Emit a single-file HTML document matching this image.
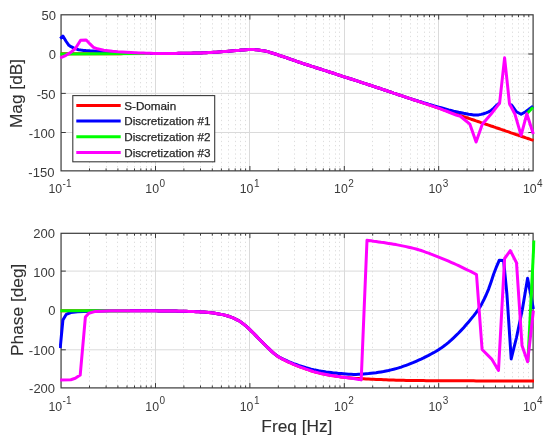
<!DOCTYPE html>
<html lang="en"><head><meta charset="utf-8"><title>Bode plot</title>
<style>html,body{margin:0;padding:0;background:#fff}svg{display:block}text{font-family:"Liberation Sans",Arial,Helvetica,sans-serif}</style></head><body>
<svg width="550" height="444" viewBox="0 0 550 444">
<rect width="550" height="444" fill="#fff"/>
<defs><clipPath id="c1"><rect x="59.05" y="14.80" width="476.45" height="156.05"/></clipPath><clipPath id="c2"><rect x="59.05" y="232.30" width="476.45" height="155.60"/></clipPath></defs>
<g stroke="#dedede" stroke-width="1" stroke-dasharray="1.3 2.9" fill="none">
<line x1="89.5" y1="14.8" x2="89.5" y2="170.8"/>
<line x1="106.5" y1="14.8" x2="106.5" y2="170.8"/>
<line x1="117.5" y1="14.8" x2="117.5" y2="170.8"/>
<line x1="127.5" y1="14.8" x2="127.5" y2="170.8"/>
<line x1="134.5" y1="14.8" x2="134.5" y2="170.8"/>
<line x1="140.5" y1="14.8" x2="140.5" y2="170.8"/>
<line x1="146.5" y1="14.8" x2="146.5" y2="170.8"/>
<line x1="151.5" y1="14.8" x2="151.5" y2="170.8"/>
<line x1="183.5" y1="14.8" x2="183.5" y2="170.8"/>
<line x1="200.5" y1="14.8" x2="200.5" y2="170.8"/>
<line x1="212.5" y1="14.8" x2="212.5" y2="170.8"/>
<line x1="221.5" y1="14.8" x2="221.5" y2="170.8"/>
<line x1="228.5" y1="14.8" x2="228.5" y2="170.8"/>
<line x1="235.5" y1="14.8" x2="235.5" y2="170.8"/>
<line x1="240.5" y1="14.8" x2="240.5" y2="170.8"/>
<line x1="245.5" y1="14.8" x2="245.5" y2="170.8"/>
<line x1="278.5" y1="14.8" x2="278.5" y2="170.8"/>
<line x1="294.5" y1="14.8" x2="294.5" y2="170.8"/>
<line x1="306.5" y1="14.8" x2="306.5" y2="170.8"/>
<line x1="315.5" y1="14.8" x2="315.5" y2="170.8"/>
<line x1="323.5" y1="14.8" x2="323.5" y2="170.8"/>
<line x1="329.5" y1="14.8" x2="329.5" y2="170.8"/>
<line x1="335.5" y1="14.8" x2="335.5" y2="170.8"/>
<line x1="339.5" y1="14.8" x2="339.5" y2="170.8"/>
<line x1="372.5" y1="14.8" x2="372.5" y2="170.8"/>
<line x1="389.5" y1="14.8" x2="389.5" y2="170.8"/>
<line x1="401.5" y1="14.8" x2="401.5" y2="170.8"/>
<line x1="410.5" y1="14.8" x2="410.5" y2="170.8"/>
<line x1="417.5" y1="14.8" x2="417.5" y2="170.8"/>
<line x1="424.5" y1="14.8" x2="424.5" y2="170.8"/>
<line x1="429.5" y1="14.8" x2="429.5" y2="170.8"/>
<line x1="434.5" y1="14.8" x2="434.5" y2="170.8"/>
<line x1="467.5" y1="14.8" x2="467.5" y2="170.8"/>
<line x1="483.5" y1="14.8" x2="483.5" y2="170.8"/>
<line x1="495.5" y1="14.8" x2="495.5" y2="170.8"/>
<line x1="504.5" y1="14.8" x2="504.5" y2="170.8"/>
<line x1="512.5" y1="14.8" x2="512.5" y2="170.8"/>
<line x1="518.5" y1="14.8" x2="518.5" y2="170.8"/>
<line x1="523.5" y1="14.8" x2="523.5" y2="170.8"/>
<line x1="528.5" y1="14.8" x2="528.5" y2="170.8"/>
</g>
<g stroke="#dadada" stroke-width="1" fill="none">
<line x1="155.5" y1="14.8" x2="155.5" y2="170.8"/>
<line x1="249.5" y1="14.8" x2="249.5" y2="170.8"/>
<line x1="344.5" y1="14.8" x2="344.5" y2="170.8"/>
<line x1="438.5" y1="14.8" x2="438.5" y2="170.8"/>
<line x1="61.0" y1="54.0" x2="533.1" y2="54.0"/>
<line x1="61.0" y1="93.4" x2="533.1" y2="93.4"/>
<line x1="61.0" y1="132.5" x2="533.1" y2="132.5"/>
</g>
<g stroke="#3a3a3a" stroke-width="1" fill="none">
<line x1="89.5" y1="170.8" x2="89.5" y2="168.4"/>
<line x1="89.5" y1="14.8" x2="89.5" y2="17.2"/>
<line x1="106.1" y1="170.8" x2="106.1" y2="168.4"/>
<line x1="106.1" y1="14.8" x2="106.1" y2="17.2"/>
<line x1="117.9" y1="170.8" x2="117.9" y2="168.4"/>
<line x1="117.9" y1="14.8" x2="117.9" y2="17.2"/>
<line x1="127.0" y1="170.8" x2="127.0" y2="168.4"/>
<line x1="127.0" y1="14.8" x2="127.0" y2="17.2"/>
<line x1="134.5" y1="170.8" x2="134.5" y2="168.4"/>
<line x1="134.5" y1="14.8" x2="134.5" y2="17.2"/>
<line x1="140.8" y1="170.8" x2="140.8" y2="168.4"/>
<line x1="140.8" y1="14.8" x2="140.8" y2="17.2"/>
<line x1="146.3" y1="170.8" x2="146.3" y2="168.4"/>
<line x1="146.3" y1="14.8" x2="146.3" y2="17.2"/>
<line x1="151.1" y1="170.8" x2="151.1" y2="168.4"/>
<line x1="151.1" y1="14.8" x2="151.1" y2="17.2"/>
<line x1="183.9" y1="170.8" x2="183.9" y2="168.4"/>
<line x1="183.9" y1="14.8" x2="183.9" y2="17.2"/>
<line x1="200.5" y1="170.8" x2="200.5" y2="168.4"/>
<line x1="200.5" y1="14.8" x2="200.5" y2="17.2"/>
<line x1="212.3" y1="170.8" x2="212.3" y2="168.4"/>
<line x1="212.3" y1="14.8" x2="212.3" y2="17.2"/>
<line x1="221.4" y1="170.8" x2="221.4" y2="168.4"/>
<line x1="221.4" y1="14.8" x2="221.4" y2="17.2"/>
<line x1="228.9" y1="170.8" x2="228.9" y2="168.4"/>
<line x1="228.9" y1="14.8" x2="228.9" y2="17.2"/>
<line x1="235.2" y1="170.8" x2="235.2" y2="168.4"/>
<line x1="235.2" y1="14.8" x2="235.2" y2="17.2"/>
<line x1="240.7" y1="170.8" x2="240.7" y2="168.4"/>
<line x1="240.7" y1="14.8" x2="240.7" y2="17.2"/>
<line x1="245.6" y1="170.8" x2="245.6" y2="168.4"/>
<line x1="245.6" y1="14.8" x2="245.6" y2="17.2"/>
<line x1="278.3" y1="170.8" x2="278.3" y2="168.4"/>
<line x1="278.3" y1="14.8" x2="278.3" y2="17.2"/>
<line x1="294.9" y1="170.8" x2="294.9" y2="168.4"/>
<line x1="294.9" y1="14.8" x2="294.9" y2="17.2"/>
<line x1="306.7" y1="170.8" x2="306.7" y2="168.4"/>
<line x1="306.7" y1="14.8" x2="306.7" y2="17.2"/>
<line x1="315.9" y1="170.8" x2="315.9" y2="168.4"/>
<line x1="315.9" y1="14.8" x2="315.9" y2="17.2"/>
<line x1="323.3" y1="170.8" x2="323.3" y2="168.4"/>
<line x1="323.3" y1="14.8" x2="323.3" y2="17.2"/>
<line x1="329.7" y1="170.8" x2="329.7" y2="168.4"/>
<line x1="329.7" y1="14.8" x2="329.7" y2="17.2"/>
<line x1="335.1" y1="170.8" x2="335.1" y2="168.4"/>
<line x1="335.1" y1="14.8" x2="335.1" y2="17.2"/>
<line x1="340.0" y1="170.8" x2="340.0" y2="168.4"/>
<line x1="340.0" y1="14.8" x2="340.0" y2="17.2"/>
<line x1="372.7" y1="170.8" x2="372.7" y2="168.4"/>
<line x1="372.7" y1="14.8" x2="372.7" y2="17.2"/>
<line x1="389.3" y1="170.8" x2="389.3" y2="168.4"/>
<line x1="389.3" y1="14.8" x2="389.3" y2="17.2"/>
<line x1="401.1" y1="170.8" x2="401.1" y2="168.4"/>
<line x1="401.1" y1="14.8" x2="401.1" y2="17.2"/>
<line x1="410.3" y1="170.8" x2="410.3" y2="168.4"/>
<line x1="410.3" y1="14.8" x2="410.3" y2="17.2"/>
<line x1="417.7" y1="170.8" x2="417.7" y2="168.4"/>
<line x1="417.7" y1="14.8" x2="417.7" y2="17.2"/>
<line x1="424.1" y1="170.8" x2="424.1" y2="168.4"/>
<line x1="424.1" y1="14.8" x2="424.1" y2="17.2"/>
<line x1="429.5" y1="170.8" x2="429.5" y2="168.4"/>
<line x1="429.5" y1="14.8" x2="429.5" y2="17.2"/>
<line x1="434.4" y1="170.8" x2="434.4" y2="168.4"/>
<line x1="434.4" y1="14.8" x2="434.4" y2="17.2"/>
<line x1="467.1" y1="170.8" x2="467.1" y2="168.4"/>
<line x1="467.1" y1="14.8" x2="467.1" y2="17.2"/>
<line x1="483.7" y1="170.8" x2="483.7" y2="168.4"/>
<line x1="483.7" y1="14.8" x2="483.7" y2="17.2"/>
<line x1="495.5" y1="170.8" x2="495.5" y2="168.4"/>
<line x1="495.5" y1="14.8" x2="495.5" y2="17.2"/>
<line x1="504.7" y1="170.8" x2="504.7" y2="168.4"/>
<line x1="504.7" y1="14.8" x2="504.7" y2="17.2"/>
<line x1="512.2" y1="170.8" x2="512.2" y2="168.4"/>
<line x1="512.2" y1="14.8" x2="512.2" y2="17.2"/>
<line x1="518.5" y1="170.8" x2="518.5" y2="168.4"/>
<line x1="518.5" y1="14.8" x2="518.5" y2="17.2"/>
<line x1="524.0" y1="170.8" x2="524.0" y2="168.4"/>
<line x1="524.0" y1="14.8" x2="524.0" y2="17.2"/>
<line x1="528.8" y1="170.8" x2="528.8" y2="168.4"/>
<line x1="528.8" y1="14.8" x2="528.8" y2="17.2"/>
<line x1="155.5" y1="170.8" x2="155.5" y2="166.0"/>
<line x1="155.5" y1="14.8" x2="155.5" y2="19.6"/>
<line x1="249.9" y1="170.8" x2="249.9" y2="166.0"/>
<line x1="249.9" y1="14.8" x2="249.9" y2="19.6"/>
<line x1="344.3" y1="170.8" x2="344.3" y2="166.0"/>
<line x1="344.3" y1="14.8" x2="344.3" y2="19.6"/>
<line x1="438.7" y1="170.8" x2="438.7" y2="166.0"/>
<line x1="438.7" y1="14.8" x2="438.7" y2="19.6"/>
<line x1="61.0" y1="54.0" x2="65.8" y2="54.0"/>
<line x1="533.1" y1="54.0" x2="528.3" y2="54.0"/>
<line x1="61.0" y1="93.4" x2="65.8" y2="93.4"/>
<line x1="533.1" y1="93.4" x2="528.3" y2="93.4"/>
<line x1="61.0" y1="132.5" x2="65.8" y2="132.5"/>
<line x1="533.1" y1="132.5" x2="528.3" y2="132.5"/>
<rect x="61.05" y="14.80" width="472.05" height="156.05" stroke-width="1.2"/>
</g>
<g fill="none" stroke-linejoin="round" stroke-linecap="butt" clip-path="url(#c1)">
<polyline points="61.0,53.8 63.5,53.8 66.0,53.8 68.5,53.8 71.0,53.8 73.5,53.8 76.0,53.8 78.5,53.8 81.0,53.8 83.5,53.8 86.0,53.8 88.5,53.8 91.0,53.7 93.5,53.7 96.0,53.7 98.5,53.7 101.0,53.7 103.5,53.7 106.0,53.7 108.5,53.7 111.0,53.7 113.5,53.7 116.0,53.7 118.5,53.7 121.0,53.7 123.5,53.6 126.0,53.6 128.6,53.6 131.1,53.6 133.6,53.6 136.1,53.6 138.6,53.6 141.1,53.6 143.6,53.6 146.1,53.6 148.6,53.5 151.1,53.5 153.6,53.5 156.1,53.5 158.6,53.5 161.1,53.5 163.6,53.4 166.1,53.4 168.6,53.4 171.1,53.4 173.6,53.4 176.1,53.4 178.6,53.3 181.1,53.3 183.6,53.3 186.1,53.3 188.6,53.2 191.1,53.2 193.6,53.1 196.1,53.1 198.6,53.0 201.1,52.9 203.6,52.8 206.1,52.7 208.6,52.6 211.1,52.5 213.6,52.3 216.1,52.2 218.6,52.0 221.1,51.8 223.6,51.6 226.1,51.4 228.6,51.2 231.1,51.0 233.6,50.8 236.1,50.6 238.6,50.4 241.1,50.1 243.6,50.0 246.1,49.8 248.6,49.6 251.1,49.5 253.6,49.6 256.1,49.8 258.6,50.0 261.1,50.4 263.6,50.8 266.1,51.3 268.6,51.9 271.1,52.7 273.6,53.5 276.1,54.3 278.6,55.1 281.1,56.0 283.6,56.8 286.1,57.6 288.6,58.5 291.1,59.4 293.6,60.2 296.1,61.1 298.6,62.0 301.1,62.8 303.6,63.7 306.1,64.5 308.6,65.3 311.1,66.1 313.6,66.9 316.1,67.7 318.6,68.5 321.1,69.3 323.6,70.1 326.1,70.9 328.6,71.7 331.1,72.5 333.6,73.3 336.1,74.1 338.6,75.0 341.1,75.8 343.6,76.7 346.1,77.4 348.6,78.2 351.1,79.0 353.6,79.8 356.1,80.6 358.6,81.4 361.1,82.3 363.6,83.1 366.1,83.9 368.6,84.7 371.1,85.5 373.6,86.4 376.1,87.2 378.6,88.0 381.1,88.8 383.6,89.7 386.1,90.5 388.6,91.4 391.1,92.2 393.6,93.1 396.1,93.9 398.6,94.8 401.1,95.6 403.6,96.4 406.1,97.3 408.6,98.1 411.1,98.9 413.6,99.8 416.1,100.6 418.6,101.4 421.1,102.2 423.6,103.1 426.1,103.9 428.6,104.7 431.1,105.6 433.6,106.4 436.1,107.2 438.6,108.1 441.1,108.9 443.6,109.8 446.1,110.6 448.6,111.5 451.1,112.4 453.6,113.2 456.1,114.1 458.6,114.9 461.1,115.8 463.6,116.6 466.1,117.5 468.6,118.3 471.1,119.2 473.6,120.0 476.1,120.9 478.6,121.7 481.1,122.6 483.6,123.4 486.1,124.3 488.6,125.1 491.1,126.0 493.6,126.8 496.1,127.7 498.6,128.5 501.1,129.4 503.6,130.2 506.1,131.1 508.6,131.9 511.1,132.8 513.5,133.6 516.0,134.5 518.5,135.3 521.0,136.2 523.5,137.0 526.0,137.9 528.5,138.7 531.0,139.6 533.6,140.4" stroke="#ff0000" stroke-width="3.0"/>
<polyline points="60.3,38.6 62.9,36.0 66.2,41.5 68.9,45.3 71.0,46.7 73.5,47.9 76.0,48.9 78.5,49.7 81.0,50.1 83.5,50.4 86.0,50.6 88.5,50.7 91.0,50.9 93.5,51.1 96.0,51.3 98.5,51.4 101.0,51.6 103.5,51.7 106.0,51.9 108.5,52.1 111.0,52.2 113.5,52.4 116.0,52.6 118.5,52.8 121.0,53.0 123.5,53.1 126.0,53.2 128.6,53.3 131.1,53.4 133.6,53.5 136.1,53.6 138.6,53.6 141.1,53.6 143.6,53.6 146.1,53.6 148.6,53.5 151.1,53.5 153.6,53.5 156.1,53.5 158.6,53.5 161.1,53.5 163.6,53.4 166.1,53.4 168.6,53.4 171.1,53.4 173.6,53.4 176.1,53.4 178.6,53.3 181.1,53.3 183.6,53.3 186.1,53.3 188.6,53.2 191.1,53.2 193.6,53.1 196.1,53.1 198.6,53.0 201.1,52.9 203.6,52.8 206.1,52.7 208.6,52.6 211.1,52.5 213.6,52.3 216.1,52.2 218.6,52.0 221.1,51.8 223.6,51.6 226.1,51.4 228.6,51.2 231.1,51.0 233.6,50.8 236.1,50.6 238.6,50.4 241.1,50.1 243.6,50.0 246.1,49.8 248.6,49.6 251.1,49.5 253.6,49.6 256.1,49.8 258.6,50.0 261.1,50.4 263.6,50.8 266.1,51.3 268.6,51.9 271.1,52.7 273.6,53.5 276.1,54.3 278.6,55.1 281.1,56.0 283.6,56.8 286.1,57.6 288.6,58.5 291.1,59.4 293.6,60.2 296.1,61.1 298.6,62.0 301.1,62.8 303.6,63.7 306.1,64.5 308.6,65.3 311.1,66.1 313.6,66.9 316.1,67.7 318.6,68.5 321.1,69.3 323.6,70.1 326.1,70.9 328.6,71.7 331.1,72.5 333.6,73.3 336.1,74.1 338.6,75.0 341.1,75.8 343.6,76.7 346.1,77.4 348.6,78.2 351.1,79.0 353.6,79.8 356.1,80.6 358.6,81.4 361.1,82.3 363.6,83.1 366.1,83.9 368.6,84.7 371.1,85.5 373.6,86.4 376.1,87.2 378.6,88.0 381.1,88.8 383.6,89.7 386.1,90.5 388.6,91.4 391.1,92.2 393.6,93.1 396.1,93.9 398.6,94.8 401.1,95.6 403.6,96.4 406.1,97.3 408.6,98.1 411.1,98.9 413.6,99.7 416.1,100.4 418.6,101.2 421.1,101.9 423.6,102.7 426.1,103.4 428.6,104.2 431.1,104.9 433.6,105.7 436.1,106.4 438.6,107.1 441.1,107.8 443.6,108.5 446.1,109.2 448.6,109.9 451.1,110.5 453.6,111.1 456.1,111.6 458.6,112.2 461.1,112.7 463.6,113.3 466.1,113.8 468.6,114.3 471.1,114.6 473.6,114.9 476.1,115.0 478.6,114.9 481.1,114.4 483.6,113.7 486.1,112.9 488.6,111.9 491.1,110.5 493.6,108.3 496.1,105.7 498.6,103.8 499.6,103.1" stroke="#0000ff" stroke-width="3.0"/>
<polyline points="509.5,103.9 512.0,105.6 516.4,111.8 521.1,114.3 525.6,111.8 533.1,106.3" stroke="#0000ff" stroke-width="3.0"/>
<polyline points="60.3,53.9 150.0,53.6" stroke="#00ff00" stroke-width="3.0"/>
<polyline points="526.8,113.8 533.1,107.2" stroke="#00ff00" stroke-width="3.0"/>
<polyline points="60.3,58.0 66.0,55.3 70.8,52.4 75.4,48.5 80.6,40.3 86.2,40.0 90.2,44.2 93.5,47.3 97.3,48.8 103.8,50.2 112.5,51.3 118.0,51.8 135.0,52.8 136.1,52.8 138.6,52.9 141.1,53.0 143.6,53.1 146.1,53.2 148.6,53.2 151.1,53.3 153.6,53.4 156.1,53.4 158.6,53.4 161.1,53.4 163.6,53.4 166.1,53.4 168.6,53.4 171.1,53.4 173.6,53.4 176.1,53.4 178.6,53.3 181.1,53.3 183.6,53.3 186.1,53.3 188.6,53.2 191.1,53.2 193.6,53.1 196.1,53.1 198.6,53.0 201.1,52.9 203.6,52.8 206.1,52.7 208.6,52.6 211.1,52.5 213.6,52.3 216.1,52.2 218.6,52.0 221.1,51.8 223.6,51.6 226.1,51.4 228.6,51.2 231.1,51.0 233.6,50.8 236.1,50.6 238.6,50.4 241.1,50.1 243.6,50.0 246.1,49.8 248.6,49.6 251.1,49.5 253.6,49.6 256.1,49.8 258.6,50.0 261.1,50.4 263.6,50.8 266.1,51.3 268.6,51.9 271.1,52.7 273.6,53.5 276.1,54.3 278.6,55.1 281.1,56.0 283.6,56.8 286.1,57.6 288.6,58.5 291.1,59.4 293.6,60.2 296.1,61.1 298.6,62.0 301.1,62.8 303.6,63.7 306.1,64.5 308.6,65.3 311.1,66.1 313.6,66.9 316.1,67.7 318.6,68.5 321.1,69.3 323.6,70.1 326.1,70.9 328.6,71.7 331.1,72.5 333.6,73.3 336.1,74.1 338.6,75.0 341.1,75.8 343.6,76.7 346.1,77.4 348.6,78.2 351.1,79.0 353.6,79.8 356.1,80.6 358.6,81.4 361.1,82.3 363.6,83.1 366.1,83.9 368.6,84.7 371.1,85.5 373.6,86.4 376.1,87.2 378.6,88.0 381.1,88.8 383.6,89.7 386.1,90.5 388.6,91.4 391.1,92.2 393.6,93.1 396.1,93.9 398.6,94.8 401.1,95.6 403.6,96.4 406.1,97.3 408.6,98.1 411.1,98.9 413.6,99.8 416.1,100.6 418.6,101.4 421.1,102.2 423.6,103.1 426.1,103.9 428.6,104.7 431.1,105.6 433.6,106.4 436.1,107.3 438.6,108.2 441.1,109.1 443.6,110.1 446.1,111.0 448.6,112.0 451.1,113.0 453.6,114.0 456.1,115.0 458.6,115.7 460.0,116.0 469.9,124.2 476.1,142.0 482.3,124.2 490.9,114.3 499.6,103.1 504.6,57.8 509.5,103.9 515.0,114.3 521.1,135.3 526.8,113.8 533.3,134.0" stroke="#ff00ff" stroke-width="3.0"/>
</g>
<g stroke="#dedede" stroke-width="1" stroke-dasharray="1.3 2.9" fill="none">
<line x1="89.5" y1="233.3" x2="89.5" y2="387.9"/>
<line x1="106.5" y1="233.3" x2="106.5" y2="387.9"/>
<line x1="117.5" y1="233.3" x2="117.5" y2="387.9"/>
<line x1="127.5" y1="233.3" x2="127.5" y2="387.9"/>
<line x1="134.5" y1="233.3" x2="134.5" y2="387.9"/>
<line x1="140.5" y1="233.3" x2="140.5" y2="387.9"/>
<line x1="146.5" y1="233.3" x2="146.5" y2="387.9"/>
<line x1="151.5" y1="233.3" x2="151.5" y2="387.9"/>
<line x1="183.5" y1="233.3" x2="183.5" y2="387.9"/>
<line x1="200.5" y1="233.3" x2="200.5" y2="387.9"/>
<line x1="212.5" y1="233.3" x2="212.5" y2="387.9"/>
<line x1="221.5" y1="233.3" x2="221.5" y2="387.9"/>
<line x1="228.5" y1="233.3" x2="228.5" y2="387.9"/>
<line x1="235.5" y1="233.3" x2="235.5" y2="387.9"/>
<line x1="240.5" y1="233.3" x2="240.5" y2="387.9"/>
<line x1="245.5" y1="233.3" x2="245.5" y2="387.9"/>
<line x1="278.5" y1="233.3" x2="278.5" y2="387.9"/>
<line x1="294.5" y1="233.3" x2="294.5" y2="387.9"/>
<line x1="306.5" y1="233.3" x2="306.5" y2="387.9"/>
<line x1="315.5" y1="233.3" x2="315.5" y2="387.9"/>
<line x1="323.5" y1="233.3" x2="323.5" y2="387.9"/>
<line x1="329.5" y1="233.3" x2="329.5" y2="387.9"/>
<line x1="335.5" y1="233.3" x2="335.5" y2="387.9"/>
<line x1="339.5" y1="233.3" x2="339.5" y2="387.9"/>
<line x1="372.5" y1="233.3" x2="372.5" y2="387.9"/>
<line x1="389.5" y1="233.3" x2="389.5" y2="387.9"/>
<line x1="401.5" y1="233.3" x2="401.5" y2="387.9"/>
<line x1="410.5" y1="233.3" x2="410.5" y2="387.9"/>
<line x1="417.5" y1="233.3" x2="417.5" y2="387.9"/>
<line x1="424.5" y1="233.3" x2="424.5" y2="387.9"/>
<line x1="429.5" y1="233.3" x2="429.5" y2="387.9"/>
<line x1="434.5" y1="233.3" x2="434.5" y2="387.9"/>
<line x1="467.5" y1="233.3" x2="467.5" y2="387.9"/>
<line x1="483.5" y1="233.3" x2="483.5" y2="387.9"/>
<line x1="495.5" y1="233.3" x2="495.5" y2="387.9"/>
<line x1="504.5" y1="233.3" x2="504.5" y2="387.9"/>
<line x1="512.5" y1="233.3" x2="512.5" y2="387.9"/>
<line x1="518.5" y1="233.3" x2="518.5" y2="387.9"/>
<line x1="523.5" y1="233.3" x2="523.5" y2="387.9"/>
<line x1="528.5" y1="233.3" x2="528.5" y2="387.9"/>
</g>
<g stroke="#dadada" stroke-width="1" fill="none">
<line x1="155.5" y1="233.3" x2="155.5" y2="387.9"/>
<line x1="249.5" y1="233.3" x2="249.5" y2="387.9"/>
<line x1="344.5" y1="233.3" x2="344.5" y2="387.9"/>
<line x1="438.5" y1="233.3" x2="438.5" y2="387.9"/>
<line x1="61.0" y1="271.1" x2="533.1" y2="271.1"/>
<line x1="61.0" y1="310.5" x2="533.1" y2="310.5"/>
<line x1="61.0" y1="349.8" x2="533.1" y2="349.8"/>
</g>
<g stroke="#3a3a3a" stroke-width="1" fill="none">
<line x1="89.5" y1="387.9" x2="89.5" y2="385.5"/>
<line x1="89.5" y1="233.3" x2="89.5" y2="235.7"/>
<line x1="106.1" y1="387.9" x2="106.1" y2="385.5"/>
<line x1="106.1" y1="233.3" x2="106.1" y2="235.7"/>
<line x1="117.9" y1="387.9" x2="117.9" y2="385.5"/>
<line x1="117.9" y1="233.3" x2="117.9" y2="235.7"/>
<line x1="127.0" y1="387.9" x2="127.0" y2="385.5"/>
<line x1="127.0" y1="233.3" x2="127.0" y2="235.7"/>
<line x1="134.5" y1="387.9" x2="134.5" y2="385.5"/>
<line x1="134.5" y1="233.3" x2="134.5" y2="235.7"/>
<line x1="140.8" y1="387.9" x2="140.8" y2="385.5"/>
<line x1="140.8" y1="233.3" x2="140.8" y2="235.7"/>
<line x1="146.3" y1="387.9" x2="146.3" y2="385.5"/>
<line x1="146.3" y1="233.3" x2="146.3" y2="235.7"/>
<line x1="151.1" y1="387.9" x2="151.1" y2="385.5"/>
<line x1="151.1" y1="233.3" x2="151.1" y2="235.7"/>
<line x1="183.9" y1="387.9" x2="183.9" y2="385.5"/>
<line x1="183.9" y1="233.3" x2="183.9" y2="235.7"/>
<line x1="200.5" y1="387.9" x2="200.5" y2="385.5"/>
<line x1="200.5" y1="233.3" x2="200.5" y2="235.7"/>
<line x1="212.3" y1="387.9" x2="212.3" y2="385.5"/>
<line x1="212.3" y1="233.3" x2="212.3" y2="235.7"/>
<line x1="221.4" y1="387.9" x2="221.4" y2="385.5"/>
<line x1="221.4" y1="233.3" x2="221.4" y2="235.7"/>
<line x1="228.9" y1="387.9" x2="228.9" y2="385.5"/>
<line x1="228.9" y1="233.3" x2="228.9" y2="235.7"/>
<line x1="235.2" y1="387.9" x2="235.2" y2="385.5"/>
<line x1="235.2" y1="233.3" x2="235.2" y2="235.7"/>
<line x1="240.7" y1="387.9" x2="240.7" y2="385.5"/>
<line x1="240.7" y1="233.3" x2="240.7" y2="235.7"/>
<line x1="245.6" y1="387.9" x2="245.6" y2="385.5"/>
<line x1="245.6" y1="233.3" x2="245.6" y2="235.7"/>
<line x1="278.3" y1="387.9" x2="278.3" y2="385.5"/>
<line x1="278.3" y1="233.3" x2="278.3" y2="235.7"/>
<line x1="294.9" y1="387.9" x2="294.9" y2="385.5"/>
<line x1="294.9" y1="233.3" x2="294.9" y2="235.7"/>
<line x1="306.7" y1="387.9" x2="306.7" y2="385.5"/>
<line x1="306.7" y1="233.3" x2="306.7" y2="235.7"/>
<line x1="315.9" y1="387.9" x2="315.9" y2="385.5"/>
<line x1="315.9" y1="233.3" x2="315.9" y2="235.7"/>
<line x1="323.3" y1="387.9" x2="323.3" y2="385.5"/>
<line x1="323.3" y1="233.3" x2="323.3" y2="235.7"/>
<line x1="329.7" y1="387.9" x2="329.7" y2="385.5"/>
<line x1="329.7" y1="233.3" x2="329.7" y2="235.7"/>
<line x1="335.1" y1="387.9" x2="335.1" y2="385.5"/>
<line x1="335.1" y1="233.3" x2="335.1" y2="235.7"/>
<line x1="340.0" y1="387.9" x2="340.0" y2="385.5"/>
<line x1="340.0" y1="233.3" x2="340.0" y2="235.7"/>
<line x1="372.7" y1="387.9" x2="372.7" y2="385.5"/>
<line x1="372.7" y1="233.3" x2="372.7" y2="235.7"/>
<line x1="389.3" y1="387.9" x2="389.3" y2="385.5"/>
<line x1="389.3" y1="233.3" x2="389.3" y2="235.7"/>
<line x1="401.1" y1="387.9" x2="401.1" y2="385.5"/>
<line x1="401.1" y1="233.3" x2="401.1" y2="235.7"/>
<line x1="410.3" y1="387.9" x2="410.3" y2="385.5"/>
<line x1="410.3" y1="233.3" x2="410.3" y2="235.7"/>
<line x1="417.7" y1="387.9" x2="417.7" y2="385.5"/>
<line x1="417.7" y1="233.3" x2="417.7" y2="235.7"/>
<line x1="424.1" y1="387.9" x2="424.1" y2="385.5"/>
<line x1="424.1" y1="233.3" x2="424.1" y2="235.7"/>
<line x1="429.5" y1="387.9" x2="429.5" y2="385.5"/>
<line x1="429.5" y1="233.3" x2="429.5" y2="235.7"/>
<line x1="434.4" y1="387.9" x2="434.4" y2="385.5"/>
<line x1="434.4" y1="233.3" x2="434.4" y2="235.7"/>
<line x1="467.1" y1="387.9" x2="467.1" y2="385.5"/>
<line x1="467.1" y1="233.3" x2="467.1" y2="235.7"/>
<line x1="483.7" y1="387.9" x2="483.7" y2="385.5"/>
<line x1="483.7" y1="233.3" x2="483.7" y2="235.7"/>
<line x1="495.5" y1="387.9" x2="495.5" y2="385.5"/>
<line x1="495.5" y1="233.3" x2="495.5" y2="235.7"/>
<line x1="504.7" y1="387.9" x2="504.7" y2="385.5"/>
<line x1="504.7" y1="233.3" x2="504.7" y2="235.7"/>
<line x1="512.2" y1="387.9" x2="512.2" y2="385.5"/>
<line x1="512.2" y1="233.3" x2="512.2" y2="235.7"/>
<line x1="518.5" y1="387.9" x2="518.5" y2="385.5"/>
<line x1="518.5" y1="233.3" x2="518.5" y2="235.7"/>
<line x1="524.0" y1="387.9" x2="524.0" y2="385.5"/>
<line x1="524.0" y1="233.3" x2="524.0" y2="235.7"/>
<line x1="528.8" y1="387.9" x2="528.8" y2="385.5"/>
<line x1="528.8" y1="233.3" x2="528.8" y2="235.7"/>
<line x1="155.5" y1="387.9" x2="155.5" y2="383.1"/>
<line x1="155.5" y1="233.3" x2="155.5" y2="238.1"/>
<line x1="249.9" y1="387.9" x2="249.9" y2="383.1"/>
<line x1="249.9" y1="233.3" x2="249.9" y2="238.1"/>
<line x1="344.3" y1="387.9" x2="344.3" y2="383.1"/>
<line x1="344.3" y1="233.3" x2="344.3" y2="238.1"/>
<line x1="438.7" y1="387.9" x2="438.7" y2="383.1"/>
<line x1="438.7" y1="233.3" x2="438.7" y2="238.1"/>
<line x1="61.0" y1="271.1" x2="65.8" y2="271.1"/>
<line x1="533.1" y1="271.1" x2="528.3" y2="271.1"/>
<line x1="61.0" y1="310.5" x2="65.8" y2="310.5"/>
<line x1="533.1" y1="310.5" x2="528.3" y2="310.5"/>
<line x1="61.0" y1="349.8" x2="65.8" y2="349.8"/>
<line x1="533.1" y1="349.8" x2="528.3" y2="349.8"/>
<rect x="61.05" y="233.30" width="472.05" height="154.60" stroke-width="1.2"/>
</g>
<g fill="none" stroke-linejoin="round" stroke-linecap="butt" clip-path="url(#c2)">
<polyline points="61.0,310.7 63.5,310.7 66.0,310.7 68.5,310.7 71.0,310.7 73.5,310.7 76.0,310.7 78.5,310.7 81.0,310.7 83.5,310.7 86.0,310.7 88.5,310.7 91.0,310.7 93.5,310.7 96.0,310.7 98.5,310.7 101.0,310.7 103.5,310.7 106.0,310.7 108.5,310.7 111.0,310.7 113.5,310.7 116.0,310.7 118.5,310.7 121.0,310.7 123.5,310.7 126.0,310.8 128.6,310.8 131.1,310.8 133.6,310.8 136.1,310.8 138.6,310.8 141.1,310.8 143.6,310.8 146.1,310.8 148.6,310.8 151.1,310.8 153.6,310.8 156.1,310.8 158.6,310.9 161.1,310.9 163.6,310.9 166.1,310.9 168.6,311.0 171.1,311.0 173.6,311.1 176.1,311.1 178.6,311.2 181.1,311.2 183.6,311.3 186.1,311.3 188.6,311.4 191.1,311.5 193.6,311.6 196.1,311.7 198.6,311.8 201.1,312.0 203.6,312.1 206.1,312.3 208.6,312.5 211.1,312.8 213.6,313.1 216.1,313.5 218.6,313.9 221.1,314.4 223.6,314.9 226.1,315.5 228.6,316.3 231.1,317.1 233.6,318.1 236.1,319.3 238.6,320.6 241.1,322.2 243.6,324.1 246.1,326.2 248.6,328.4 251.1,330.8 253.6,333.3 256.1,335.9 258.6,338.5 261.1,341.0 263.6,343.5 266.1,346.0 268.6,348.4 271.1,350.8 273.6,353.2 276.1,355.2 278.6,356.9 281.1,358.3 283.6,359.6 286.1,360.8 288.6,362.1 291.1,363.2 293.6,364.4 296.1,365.4 298.6,366.4 301.1,367.3 303.6,368.2 306.1,369.1 308.6,369.9 311.1,370.8 313.6,371.6 316.1,372.3 318.6,372.9 321.1,373.5 323.6,374.0 326.1,374.5 328.6,375.0 331.1,375.4 333.6,375.8 336.1,376.2 338.6,376.6 341.1,377.0 343.6,377.3 346.1,377.6 348.6,377.8 351.1,378.0 353.6,378.2 356.1,378.4 358.6,378.5 361.1,378.7 363.6,378.8 366.1,379.0 368.6,379.1 371.1,379.2 373.6,379.3 376.1,379.4 378.6,379.5 381.1,379.6 383.6,379.7 386.1,379.8 388.6,379.9 391.1,380.0 393.6,380.1 396.1,380.2 398.6,380.2 401.1,380.3 403.6,380.3 406.1,380.4 408.6,380.4 411.1,380.5 413.6,380.5 416.1,380.6 418.6,380.6 421.1,380.6 423.6,380.6 426.1,380.7 428.6,380.7 431.1,380.7 433.6,380.7 436.1,380.7 438.6,380.8 441.1,380.8 443.6,380.8 446.1,380.8 448.6,380.8 451.1,380.8 453.6,380.8 456.1,380.8 458.6,380.8 461.1,380.8 463.6,380.8 466.1,380.8 468.6,380.8 471.1,380.8 473.6,380.8 476.1,380.9 478.6,380.9 481.1,380.9 483.6,380.9 486.1,380.9 488.6,380.9 491.1,380.9 493.6,380.9 496.1,380.9 498.6,380.9 501.1,380.9 503.6,380.9 506.1,380.9 508.6,380.9 511.1,380.9 513.5,380.9 516.0,380.9 518.5,380.9 521.0,380.9 523.5,380.9 526.0,380.9 528.5,380.9 531.0,380.9 534.0,380.9" stroke="#ff0000" stroke-width="3.0"/>
<polyline points="60.2,348.0 62.9,320.0 66.3,314.3 70.8,312.5 77.5,311.8 90.0,311.2 110.0,310.8 111.0,310.8 113.5,310.8 116.0,310.8 118.5,310.8 121.0,310.8 123.5,310.8 126.0,310.8 128.6,310.8 131.1,310.8 133.6,310.8 136.1,310.8 138.6,310.8 141.1,310.8 143.6,310.8 146.1,310.8 148.6,310.8 151.1,310.8 153.6,310.8 156.1,310.8 158.6,310.9 161.1,310.9 163.6,310.9 166.1,310.9 168.6,311.0 171.1,311.0 173.6,311.1 176.1,311.1 178.6,311.2 181.1,311.2 183.6,311.3 186.1,311.3 188.6,311.4 191.1,311.5 193.6,311.6 196.1,311.7 198.6,311.8 201.1,312.0 203.6,312.1 206.1,312.3 208.6,312.5 211.1,312.8 213.6,313.1 216.1,313.5 218.6,313.9 221.1,314.4 223.6,314.9 226.1,315.5 228.6,316.3 231.1,317.1 233.6,318.1 236.1,319.3 238.6,320.6 241.1,322.2 243.6,324.1 246.1,326.2 248.6,328.4 251.1,330.8 253.6,333.3 256.1,335.9 258.6,338.5 261.1,341.0 263.6,343.5 266.1,346.0 268.6,348.4 271.1,350.8 273.6,353.1 276.1,355.1 278.6,356.7 281.1,358.1 283.6,359.3 286.1,360.4 288.6,361.6 291.1,362.6 293.6,363.6 296.1,364.5 298.6,365.4 301.1,366.2 303.6,367.0 306.1,367.8 308.6,368.5 311.1,369.2 313.6,369.8 316.1,370.3 318.6,370.8 321.1,371.2 323.6,371.6 326.1,372.0 328.6,372.3 331.1,372.6 333.6,372.9 336.1,373.1 338.6,373.4 341.1,373.6 343.6,373.8 346.1,374.0 348.6,374.2 351.1,374.3 353.6,374.4 356.1,374.4 358.6,374.3 361.1,374.2 363.6,374.0 366.1,373.8 368.6,373.6 371.1,373.3 373.6,373.0 376.1,372.7 378.6,372.3 381.1,371.9 383.6,371.5 386.1,371.0 388.6,370.5 391.1,369.9 393.6,369.3 396.1,368.6 398.6,367.9 401.1,367.1 403.6,366.2 406.1,365.3 408.6,364.4 411.1,363.4 413.6,362.4 416.1,361.3 418.6,360.2 421.1,359.1 423.6,357.9 426.1,356.6 428.6,355.4 431.1,354.0 433.6,352.7 436.1,351.3 438.6,349.7 441.1,348.1 443.6,346.3 446.1,344.4 448.6,342.3 451.1,340.1 453.6,337.8 456.1,335.4 458.6,333.0 461.1,330.4 463.6,327.7 466.1,324.8 468.6,321.9 471.1,318.9 473.6,315.9 476.1,312.7 478.6,309.1 481.1,305.1 483.6,300.3 486.1,295.0 488.6,289.1 491.1,281.9 493.6,274.2 496.1,267.7 498.6,261.8 499.2,260.3 503.6,260.4 506.9,294.0 511.2,358.9 516.5,337.5 522.4,309.3 527.6,278.2 533.4,309.0" stroke="#0000ff" stroke-width="3.0"/>
<polyline points="60.3,310.7 130.0,310.7" stroke="#00ff00" stroke-width="3.0"/>
<polyline points="527.9,361.8 534.0,240.5" stroke="#00ff00" stroke-width="3.0"/>
<polyline points="60.2,380.0 70.8,379.7 75.3,378.3 80.2,375.1 85.4,317.0 88.8,313.2 95.5,311.4 111.0,310.8 111.0,310.8 113.5,310.8 116.0,310.8 118.5,310.8 121.0,310.8 123.5,310.8 126.0,310.8 128.6,310.8 131.1,310.8 133.6,310.8 136.1,310.8 138.6,310.8 141.1,310.8 143.6,310.8 146.1,310.8 148.6,310.8 151.1,310.8 153.6,310.8 156.1,310.8 158.6,310.9 161.1,310.9 163.6,310.9 166.1,310.9 168.6,311.0 171.1,311.0 173.6,311.1 176.1,311.1 178.6,311.2 181.1,311.2 183.6,311.3 186.1,311.3 188.6,311.4 191.1,311.5 193.6,311.6 196.1,311.7 198.6,311.8 201.1,312.0 203.6,312.1 206.1,312.3 208.6,312.5 211.1,312.8 213.6,313.1 216.1,313.5 218.6,313.9 221.1,314.4 223.6,314.9 226.1,315.5 228.6,316.3 231.1,317.1 233.6,318.1 236.1,319.3 238.6,320.6 241.1,322.2 243.6,324.1 246.1,326.2 248.6,328.4 251.1,330.8 253.6,333.3 256.1,335.9 258.6,338.5 261.1,341.0 263.6,343.5 266.1,346.0 268.6,348.4 271.1,350.8 273.6,353.2 276.1,355.2 278.6,356.9 281.1,358.3 283.6,359.6 286.1,360.8 288.6,362.1 291.1,363.2 293.6,364.4 296.1,365.4 298.6,366.4 301.1,367.3 303.6,368.2 306.1,369.1 308.6,369.9 311.1,370.8 313.6,371.6 316.1,372.3 318.6,372.9 321.1,373.5 323.6,374.0 326.1,374.5 328.6,375.0 331.1,375.4 333.6,375.8 336.1,376.2 338.6,376.6 341.1,377.0 343.6,377.3 346.1,377.6 348.6,377.9 351.1,378.2 353.6,378.6 356.1,379.0 358.6,379.4 361.1,379.9 361.2,379.9 367.0,240.3 368.6,240.5 371.1,240.8 373.6,241.2 376.1,241.5 378.6,241.9 381.1,242.3 383.6,242.6 386.1,243.0 388.6,243.4 391.1,243.8 393.6,244.2 396.1,244.6 398.6,245.1 401.1,245.6 403.6,246.1 406.1,246.6 408.6,247.2 411.1,247.8 413.6,248.4 416.1,249.0 418.6,249.8 421.1,250.5 423.6,251.4 426.1,252.3 428.6,253.2 431.1,254.2 433.6,255.1 436.1,256.1 438.6,257.1 441.1,258.1 443.6,259.1 446.1,260.1 448.6,261.2 451.1,262.3 453.6,263.4 456.1,264.5 458.6,265.7 461.1,266.9 463.6,268.1 466.1,269.3 468.6,270.5 471.1,271.7 473.6,273.0 476.1,274.3 476.5,274.5 482.1,349.5 491.7,359.1 498.5,370.5 504.6,258.5 510.3,250.6 516.5,262.7 522.0,345.5 527.6,361.8 533.4,310.5" stroke="#ff00ff" stroke-width="3.0"/>
</g>
<g font-size="13" text-anchor="end" fill="#3a3a3a">
<text x="55.9" y="20.4">50</text>
<text x="55.9" y="59.4">0</text>
<text x="55.5" y="98.7">-50</text>
<text x="54.9" y="137.6">-100</text>
<text x="54.4" y="177.1">-150</text>
<text x="54.9" y="238.2">200</text>
<text x="54.9" y="277.2">100</text>
<text x="55.6" y="315.1">0</text>
<text x="54.9" y="354.6">-100</text>
<text x="55.1" y="393.4">-200</text>
</g>
<g font-size="12.3" fill="#3a3a3a">
<text x="48.4" y="193.4">10<tspan font-size="10" dy="-6.3" dx="0.5">-1</tspan></text>
<text x="145.3" y="193.4">10<tspan font-size="10" dy="-6.3" dx="0.5">0</tspan></text>
<text x="239.7" y="193.4">10<tspan font-size="10" dy="-6.3" dx="0.5">1</tspan></text>
<text x="334.1" y="193.4">10<tspan font-size="10" dy="-6.3" dx="0.5">2</tspan></text>
<text x="428.5" y="193.4">10<tspan font-size="10" dy="-6.3" dx="0.5">3</tspan></text>
<text x="522.9" y="193.4">10<tspan font-size="10" dy="-6.3" dx="0.5">4</tspan></text>
</g>
<g font-size="12.3" fill="#3a3a3a">
<text x="48.4" y="410.5">10<tspan font-size="10" dy="-6.3" dx="0.5">-1</tspan></text>
<text x="145.3" y="410.5">10<tspan font-size="10" dy="-6.3" dx="0.5">0</tspan></text>
<text x="239.7" y="410.5">10<tspan font-size="10" dy="-6.3" dx="0.5">1</tspan></text>
<text x="334.1" y="410.5">10<tspan font-size="10" dy="-6.3" dx="0.5">2</tspan></text>
<text x="428.5" y="410.5">10<tspan font-size="10" dy="-6.3" dx="0.5">3</tspan></text>
<text x="522.9" y="410.5">10<tspan font-size="10" dy="-6.3" dx="0.5">4</tspan></text>
</g>
<g font-size="17.3" text-anchor="middle" fill="#303030" stroke="#303030" stroke-width="0.1">
<text transform="translate(22.4,93.5) rotate(-90)">Mag [dB]</text>
<text transform="translate(22.7,309.8) rotate(-90)">Phase [deg]</text>
<text x="296.9" y="432.4">Freq [Hz]</text>
</g>
<rect x="72.8" y="95.6" width="141.9" height="66.2" fill="#fff" stroke="#3a3a3a" stroke-width="1.1"/>
<g stroke-width="3.0" fill="none">
<line x1="76.3" y1="105.4" x2="120.7" y2="105.4" stroke="#ff0000"/>
<line x1="76.3" y1="121.1" x2="120.7" y2="121.1" stroke="#0000ff"/>
<line x1="76.3" y1="136.8" x2="120.7" y2="136.8" stroke="#00ff00"/>
<line x1="76.3" y1="152.5" x2="120.7" y2="152.5" stroke="#ff00ff"/>
</g>
<g font-size="11.7" fill="#262626" stroke="#262626" stroke-width="0.25">
<text x="124.2" y="109.7">S-Domain</text>
<text x="124.2" y="125.4">Discretization #1</text>
<text x="124.2" y="141.1">Discretization #2</text>
<text x="124.2" y="156.8">Discretization #3</text>
</g>
</svg></body></html>
